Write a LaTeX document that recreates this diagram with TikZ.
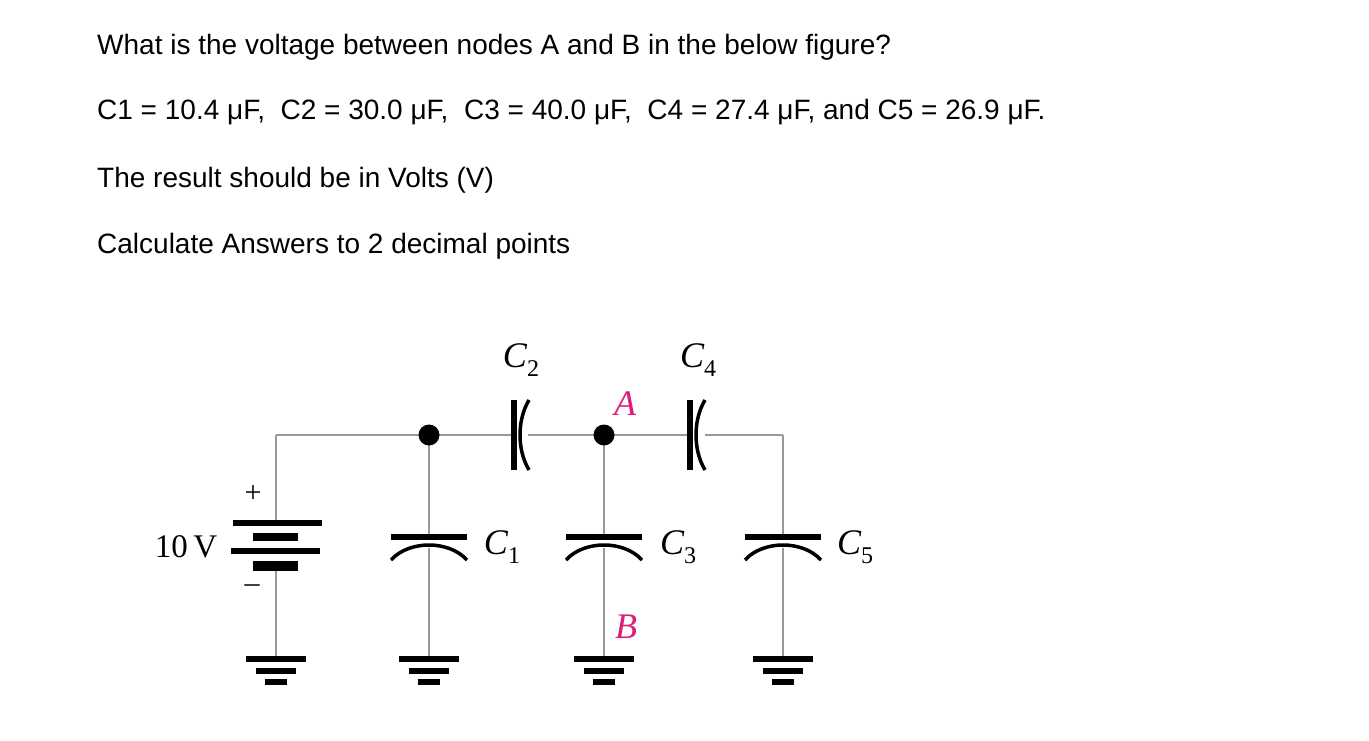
\documentclass[tikz,border=0pt]{standalone}
\usepackage{fontspec}
\setmainfont{Liberation Sans}
\newfontfamily\serifl{Liberation Serif}
\newcommand{\subd}[1]{\raisebox{-0.25em}{\upshape\fontsize{24}{26}\selectfont #1}}
\begin{document}
\begin{tikzpicture}[x=1pt,y=-1pt,
  wire/.style={draw=black!40,line width=2.5pt},
  plate/.style={draw=black,line width=6pt},
  curv/.style={draw=black,line width=3.5pt},
  qtext/.style={anchor=base west,inner sep=0,font=\fontsize{28}{32}\selectfont},
  lab/.style={inner sep=0,font=\serifl\itshape\fontsize{36}{40}\selectfont},
  mag/.style={lab,text={rgb,255:red,220;green,30;blue,120}},
  dot/.style={circle,fill=black,inner sep=0,minimum width=19pt,minimum height=21pt}]
\useasboundingbox (0,0) rectangle (1369,741);
\fill[white] (0,0) rectangle (1369,741);
\node[qtext] (q1) at (97,55) {What is the voltage between nodes A and B in the below figure?};
\node[qtext] (q2) at (97,120) {C1 = 10.4 μF,\ \ C2 = 30.0 μF,\ \ C3 = 40.0 μF,\ \ C4 = 27.4 μF, and C5 = 26.9 μF.};
\node[qtext] (q3) at (97,187) {The result should be in Volts (V)};
\node[qtext] (q4) at (97,253) {Calculate Answers to 2 decimal points};
\coordinate (tl) at (276,435);
\coordinate (tr) at (783,435);
\coordinate (n1) at (429,435);
\coordinate (nA) at (604,435);
\draw[wire] (tl) -- (tr);
\draw[wire] (tl) -- (276,657);
\draw[wire] (n1) -- (429,657);
\draw[wire] (nA) -- (604,657);
\draw[wire] (tr) -- (783,657);
\node[dot] (d1) at (n1) {};
\node[dot] (dA) at (nA) {};
\fill[white] (513,420) rectangle (528,450);
\fill[white] (690,420) rectangle (705,450);
\draw[plate] (514,400) -- (514,470);
\draw[curv] (529,400) .. controls (517,420) and (517,450) .. (529,470);
\draw[plate] (690,400) -- (690,470);
\draw[curv] (705,400) .. controls (693,420) and (693,450) .. (705,470);
\fill[white] (260,525) rectangle (292,570);
\draw[plate,line width=6pt] (233,523) -- (322,523);
\draw[plate,line width=8pt] (253,537) -- (298,537);
\draw[plate,line width=6pt] (231,551) -- (320,551);
\draw[plate,line width=10pt] (253,566) -- (298,566);
\foreach \x in {429,604,783}{
  \fill[white] (\x-5,540) rectangle (\x+5,548);
  \draw[plate,line width=6pt] (\x-38,537) -- (\x+38,537);
  \draw[curv] (\x-38,560) .. controls (\x-20,540) and (\x+20,540) .. (\x+38,560);
}
\foreach \x in {276,429,604,783}{
  \draw[plate,line width=6pt] (\x-30,659) -- (\x+30,659);
  \draw[plate,line width=6pt] (\x-20,671) -- (\x+20,671);
  \draw[plate,line width=6pt] (\x-11,682) -- (\x+11,682);
}
\node[lab] (lC2) at (521,360) {C\subd{2}};
\node[lab] (lC4) at (698,360) {C\subd{4}};
\node[lab] (lC1) at (502,547) {C\subd{1}};
\node[lab] (lC3) at (678,547) {C\subd{3}};
\node[lab] (lC5) at (855,547) {C\subd{5}};
\node[mag] (lA) at (625,404) {A};
\node[mag] (lB) at (626,627) {B};
\node[lab,font=\serifl\fontsize{33}{36}\selectfont] (lV) at (186,547) {10\,V};
\node[lab,font=\serifl\fontsize{30}{32}\selectfont] (lp) at (253,494) {+};
\node[lab,font=\serifl\fontsize{30}{32}\selectfont] (lm) at (252,589) {–};
\end{tikzpicture}
\end{document}
